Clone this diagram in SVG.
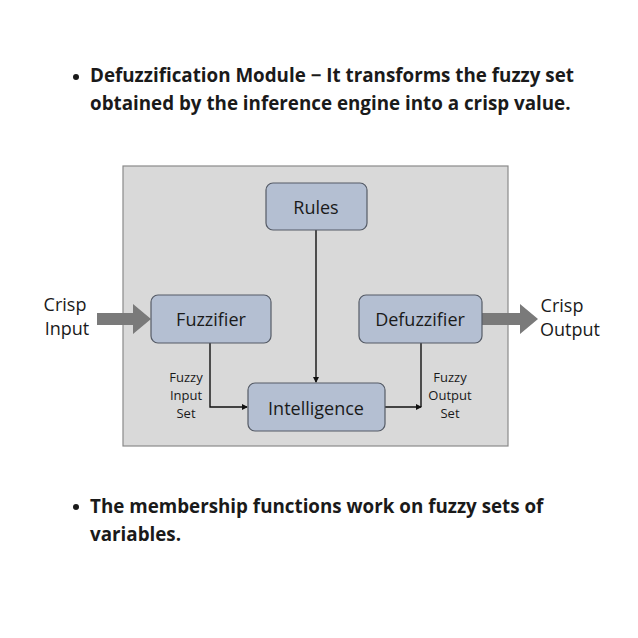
<svg xmlns="http://www.w3.org/2000/svg" width="638" height="638" viewBox="0 0 638 638">
<style>
.b{font-family:"Open Sans",sans-serif;font-weight:bold;font-size:18.8px;fill:#1a1a1a}
.n rect{fill:#b4bfd2;stroke:#555b66;stroke-width:1.2}
.t{font-family:"Open Sans",sans-serif;font-size:18px;fill:#1a1a1a;text-anchor:middle}
.s{font-family:"Open Sans",sans-serif;font-size:13px;fill:#1a1a1a;text-anchor:middle}
.c{stroke:#111;stroke-width:1.4;fill:none}
</style>
<defs><marker id="a" markerWidth="6" markerHeight="6" refX="5" refY="3" orient="auto" markerUnits="userSpaceOnUse"><path d="M0,0L6,3L0,6z" fill="#111"/></marker></defs>
<rect width="638" height="638" fill="#fff"/>
<circle cx="76" cy="77" r="3" fill="#1a1a1a"/>
<text class="b" x="90" y="82">Defuzzification Module − It transforms the fuzzy set</text>
<text class="b" x="90" y="110">obtained by the inference engine into a crisp value.</text>
<circle cx="76" cy="507" r="3" fill="#1a1a1a"/>
<text class="b" x="90" y="513">The membership functions work on fuzzy sets of</text>
<text class="b" x="90" y="541">variables.</text>
<rect x="123" y="166" width="385" height="280" fill="#d9d9d9" stroke="#8a8a8a" stroke-width="1.2"/>
<g id="connectors">
<path class="c" d="M316,230V382" marker-end="url(#a)"/>
<path class="c" d="M210,343V407H247" marker-end="url(#a)"/>
<path class="c" d="M385,407H421" marker-end="url(#a)"/>
<path class="c" d="M421,343V407"/>
<path d="M97,313H133V304L151,319L133,334V325H97z" fill="#7a7a7a"/>
<path d="M482,313H520V304L538,319L520,334V325H482z" fill="#7a7a7a"/>
</g>
<g id="rules" class="n"><rect x="266" y="183" width="101" height="47" rx="7"/><text class="t" x="316" y="214">Rules</text></g>
<g id="fuzzifier" class="n"><rect x="151" y="295" width="120" height="48" rx="7"/><text class="t" x="211" y="326">Fuzzifier</text></g>
<g id="defuzzifier" class="n"><rect x="359" y="295" width="123" height="48" rx="7"/><text class="t" x="420" y="326">Defuzzifier</text></g>
<g id="intelligence" class="n"><rect x="248" y="383" width="137" height="48" rx="7"/><text class="t" x="316" y="415">Intelligence</text></g>
<g id="labels">
<text class="t" x="65" y="311">Crisp</text><text class="t" x="67" y="335">Input</text>
<text class="t" x="562" y="312">Crisp</text><text class="t" x="570" y="336">Output</text>
<text class="s" x="186" y="382">Fuzzy</text><text class="s" x="186" y="400">Input</text><text class="s" x="186" y="418">Set</text>
<text class="s" x="450" y="382">Fuzzy</text><text class="s" x="450" y="400">Output</text><text class="s" x="450" y="418">Set</text>
</g>
</svg>
